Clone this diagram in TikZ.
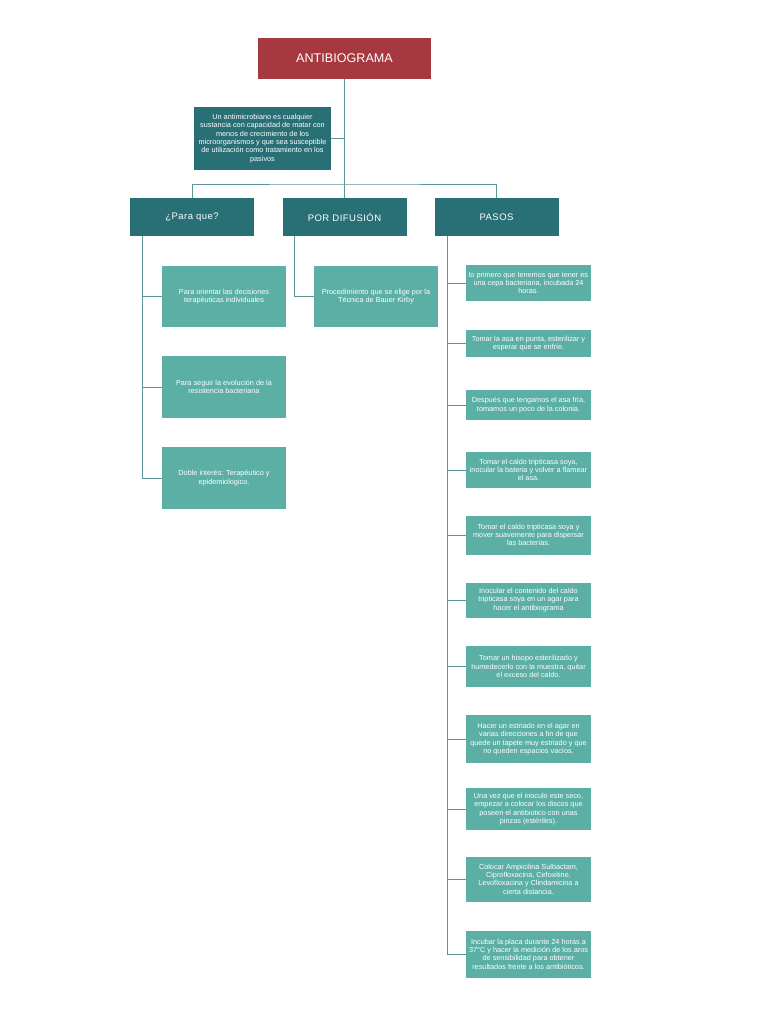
\documentclass[tikz,border=0pt]{standalone}
\usepackage{fontspec}
\setmainfont{Liberation Sans}
\newfontfamily\hdrfont[LetterSpace=5]{Liberation Sans}
\definecolor{titlec}{HTML}{A5393F}
\definecolor{hdrc}{HTML}{286F76}
\definecolor{boxc}{HTML}{5BAFA5}
\definecolor{linec}{HTML}{5F949A}
\begin{document}
\begin{tikzpicture}[x=1pt,y=-1pt,
  conn/.style={draw=linec, line width=0.8pt},
  titlebox/.style={fill=titlec, text=white, minimum width=173pt, minimum height=41pt, inner sep=0pt, font=\fontsize{12.6}{14}\selectfont},
  defbox/.style={fill=hdrc, text=white, minimum width=137pt, minimum height=63pt, inner sep=0pt, align=center, font=\fontsize{7.3}{8.3}\selectfont},
  hdr/.style={fill=hdrc, text=white, minimum width=124pt, minimum height=38pt, inner sep=0pt, align=center, font=\hdrfont\fontsize{9.5}{11}\selectfont},
  subbox/.style={fill=boxc, text=white, minimum width=124pt, inner sep=0pt, align=center, font=\fontsize{7.3}{8.3}\selectfont},
  rbox/.style={fill=boxc, text=white, minimum width=125pt, inner sep=0pt, align=center, font=\fontsize{7.3}{8.3}\selectfont}]
\useasboundingbox (0,0) rectangle (768,1024);
\fill[white] (0,0) rectangle (768,1024);

\node[titlebox] (title) at (344.5,58.5) {ANTIBIOGRAMA};
\node[defbox] (def) at (262.5,138.5) {Un antimicrobiano es cualquier\\sustancia con capacidad de matar con\\menos de crecimiento de los\\microorganismos y que sea susceptible\\de utilización como tratamiento en los\\pasivos};

\node[hdr] (h1) at (192,217) {¿Para que?};
\node[hdr] (h2) at (344.5,217) {POR DIFUSIÓN};
\node[hdr] (h3) at (496.5,217) {PASOS};

\coordinate (j) at (344.5,184);
\draw[conn] (title.south) -- (j);
\draw[conn] (def.east) -- (def.east -| j);
\draw[conn] (h1.north) |- (j) -| (h3.north);
\draw[conn] (j) -- (h2.north);

% left column
\node[subbox, minimum height=61pt] (l1) at (224,296.5) {Para orientar las decisiones\\terapéuticas individuales};
\node[subbox, minimum height=62pt] (l2) at (224,387) {Para seguir la evolución de la\\resistencia bacteriana};
\node[subbox, minimum height=62pt] (l3) at (224,478) {Doble interés: Terapéutico y\\epidemiologico.};
\coordinate (lL) at (142,236);
\draw[conn] (lL) |- (l3.west);
\draw[conn] (l1.west) -- (l1.west -| lL);
\draw[conn] (l2.west) -- (l2.west -| lL);

% middle column
\node[subbox, minimum height=61pt] (m1) at (376,296.5) {Procedimiento que se elige por la\\Técnica de Bauer Kirby};
\coordinate (mL) at (294,236);
\draw[conn] (mL) |- (m1.west);

% right column
\node[rbox, minimum height=36pt] (r1) at (528.5,283) {lo primero que tenemos que tener es\\una cepa bacteriana, incubada 24\\horas.};
\node[rbox, minimum height=27pt] (r2) at (528.5,343.5) {Tomar la asa en punta, esterilizar y\\esperar que se enfríe.};
\node[rbox, minimum height=30pt] (r3) at (528.5,405) {Después que tengamos el asa fría,\\tomamos un poco de la colonia.};
\node[rbox, minimum height=36pt] (r4) at (528.5,470) {Tomar el caldo tripticasa soya,\\inocular la bateria y volver a flamear\\el asa.};
\node[rbox, minimum height=39pt] (r5) at (528.5,535) {Tomar el caldo tripticasa soya y\\mover suavemente para dispersar\\las bacterias.};
\node[rbox, minimum height=35pt] (r6) at (528.5,600) {Inocular el contenido del caldo\\tripticasa soya en un agar para\\hacer el antibiograma};
\node[rbox, minimum height=41pt] (r7) at (528.5,666.5) {Tomar un hisopo esterilizado y\\humedecerlo con la muestra, quitar\\el exceso del caldo.};
\node[rbox, minimum height=48pt] (r8) at (528.5,739) {Hacer un estriado en el agar en\\varias direcciones a fin de que\\quede un tapete muy estriado y que\\no queden espacios vacíos.};
\node[rbox, minimum height=42pt] (r9) at (528.5,809) {Una vez que el inoculo este seco,\\empezar a colocar los discos que\\poseen el antibiotico con unas\\pinzas (estériles).};
\node[rbox, minimum height=45pt] (r10) at (528.5,879) {Colocar Ampicilina Sulbactam,\\Ciprofloxacina, Cefoxitine,\\Levofloxacina y Clindamicina a\\cierta distancia.};
\node[rbox, minimum height=47pt] (r11) at (528.5,954) {Incubar la placa durante 24 horas a\\37°C y hacer la medición de los aros\\de sensibilidad para obtener\\resultados frente a los antibióticos.};
\coordinate (rL) at (447,236);
\draw[conn] (rL) |- (r11.west);
\foreach \n in {r1,r2,r3,r4,r5,r6,r7,r8,r9,r10}
  \draw[conn] (\n.west) -- (\n.west -| rL);
\end{tikzpicture}
\end{document}
